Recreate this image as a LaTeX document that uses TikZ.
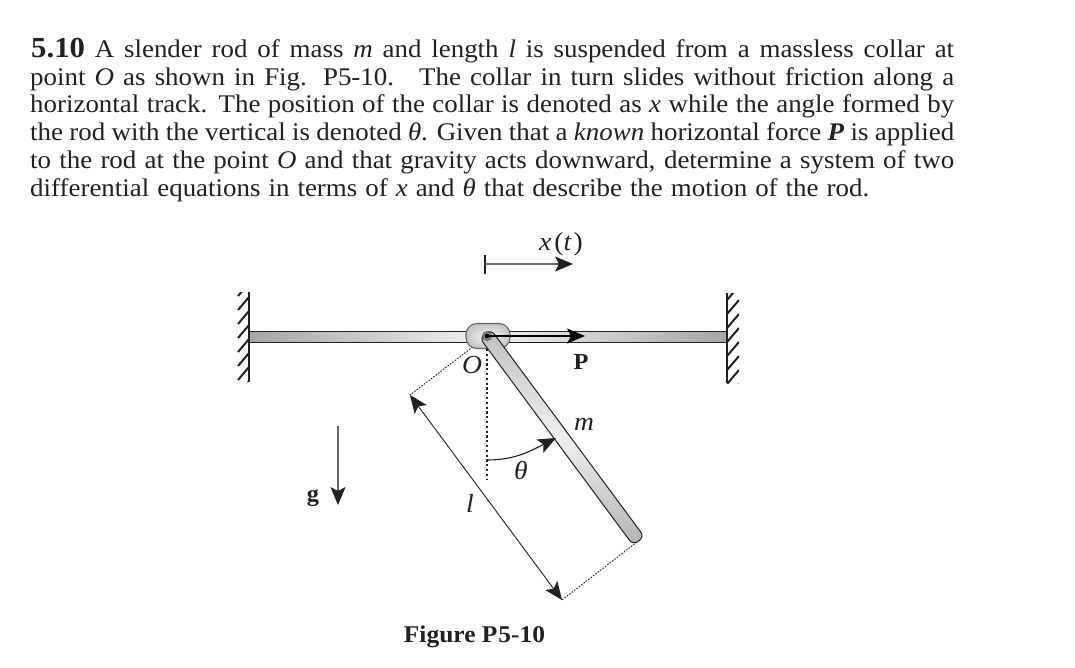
\documentclass[tikz,border=0pt]{standalone}
\usepackage{fontspec}
\setmainfont[FakeStretch=1.06]{Liberation Serif}
\usetikzlibrary{arrows.meta}
\definecolor{ink}{gray}{0.13}
\newcommand{\txtline}[1]{\makebox[924pt][s]{#1}}
\tikzset{
  x=1pt,y=-1pt,
  body/.style={anchor=base west,inner sep=0pt,font=\fontsize{25.4}{28}\selectfont,text=ink},
  lab/.style={inner sep=0pt,font=\fontsize{26}{28}\selectfont,text=ink},
  blab/.style={inner sep=0pt,font=\fontsize{23}{26}\selectfont\bfseries,text=ink},
  dim/.style={draw=black!60,line width=1.1pt,-{Stealth[length=18pt,width=15pt,inset=4pt,color=ink]}},
  dimboth/.style={draw=ink,line width=0.9pt,{Stealth[length=18pt,width=15pt,inset=4pt]}-{Stealth[length=18pt,width=15pt,inset=4pt]}},
  dots/.style={draw=ink,line width=0.9pt,dash pattern=on 1.6pt off 1.4pt},
  vdots/.style={draw=ink,line width=1.1pt,dash pattern=on 2.2pt off 2.6pt},
  wallline/.style={draw=ink,line width=1.8pt},
  hatchline/.style={draw=ink,line width=2pt},
}
\begin{document}
\begin{tikzpicture}
\useasboundingbox (0,0) rectangle (1075,667);
\fill[white] (0,0) rectangle (1075,667);
% text
\node[body] (t1) at (31,57.5) {\makebox[923pt][s]{\fontsize{29}{28}\selectfont\bfseries 5.10\fontsize{25.4}{28}\selectfont\mdseries{} A slender rod of mass \textit{m} and length \textit{l} is suspended from a massless collar at}};
\node[body] (t2) at (30,85.5) {\txtline{point \textit{O} as shown in Fig. P5-10.\hspace{0.35em} The collar in turn slides without friction along a}};
\node[body] (t3) at (30,112.5) {\txtline{horizontal track. The position of the collar is denoted as \textit{x} while the angle formed by}};
\node[body] (t4) at (30,140.5) {\txtline{the rod with the vertical is denoted \textit{θ}. Given that a \textit{known} horizontal force \textbf{\textit{P}} is applied}};
\node[body] (t5) at (30,168.5) {\txtline{to the rod at the point \textit{O} and that gravity acts downward, determine a system of two}};
\node[body] (t6) at (30,196.5) {\makebox[839pt][s]{differential equations in terms of \textit{x} and \textit{θ} that describe the motion of the rod.}};
% coordinates
\coordinate (O) at (487,336);
\coordinate (xstart) at (485,264);
\coordinate (xend) at (573,264);
\coordinate (Pend) at (585,336);
\coordinate (ltop) at (410,395);
\coordinate (lbot) at (562,600);
\coordinate (rodtip) at (637,542);
\coordinate (vend) at (487,480);
\coordinate (thstart) at (487,460);
\coordinate (thend) at (556,438);
\coordinate (gtop) at (338,426);
\coordinate (gend) at (338,505);
% track
\shade[left color=black!35,right color=black!5] (249,331) rectangle (488,342);
\shade[left color=black!5,right color=black!35] (488,331) rectangle (727,342);
\draw[ink,line width=1pt] (249,331) -- (727,331) (249,342) -- (727,342);
% walls
\begin{scope}
  \clip (237,292) rectangle (249,381.5);
  \foreach \y in {283,297,...,381} {
    \draw[hatchline] (249,\y) -- (238,\y+13);
  }
\end{scope}
\begin{scope}
  \clip (727,293) rectangle (739,383);
  \foreach \y in {286,300,...,384} {
    \draw[hatchline] (739,\y) -- (727,\y+14);
  }
\end{scope}
\draw[wallline] (249,292) -- (249,381.5);
\draw[wallline] (727,293) -- (727,383);
% dotted lines
\draw[dots] (O) -- (ltop);
\draw[dots] (rodtip) -- (lbot);
\draw[vdots] (487,349) -- (vend);
% collar
\shade[inner color=black!4,outer color=black!22,draw=black!60,line width=1.1pt,rounded corners=11pt] (466,323.5) rectangle (510,348.5);
% rod
\begin{scope}[shift={(O)},rotate=-53.5]
  \shade[top color=black!25,bottom color=black!30,middle color=black!6,draw=ink,line width=1pt,rounded corners=6pt] (-3,-7) rectangle (255,7);
\end{scope}
% pivot
\fill[black!45] (O) circle (4.5pt);
\draw[black!70,line width=0.7pt] (O) circle (4.5pt);
\fill[black] (O) circle (2.4pt);
% force
\draw[draw=black,line width=1.6pt,-{Stealth[length=18pt,width=15pt,inset=4pt]}] (O) -- (Pend);
% x(t)
\draw[draw=ink,line width=1.6pt] (485,255) -- (485,274);
\draw[dim] (xstart) -- (xend);
\node[lab] (xt) at (561,244) {\textit{x}\hspace{3pt}(\textit{t}\hspace{2pt})};
% labels
\node[lab] (Olab) at (472,365.5) {\textit{O}};
\node[blab] (Plab) at (581,361.5) {P};
\node[lab] (mlab) at (584,424) {\textit{m}};
\node[lab] (thlab) at (521,470.5) {\textit{θ}};
\node[lab] (llab) at (470,503.5) {\textit{l}};
\node[blab] (glab) at (313,498) {g};
% dims
\draw[dimboth] (ltop) -- (lbot);
\draw[dim,draw=ink] (thstart) to[out=0,in=207] (thend);
\draw[dim] (gtop) -- (gend);
\node[blab,font=\fontsize{24}{28}\selectfont\bfseries] (cap) at (474.5,637) {Figure P\hspace{1pt}5-10};
\end{tikzpicture}
\end{document}
